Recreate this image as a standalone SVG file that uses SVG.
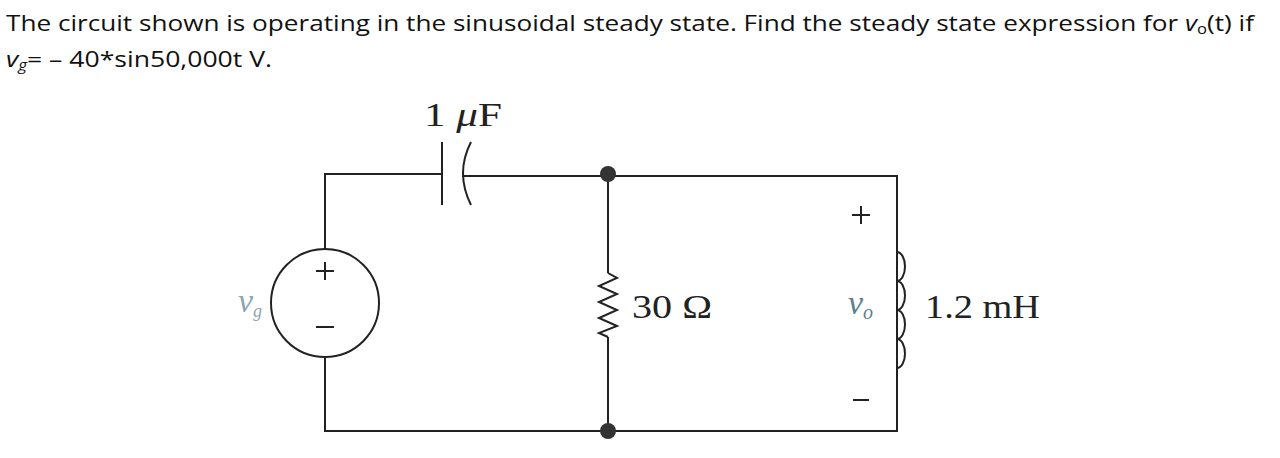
<svg xmlns="http://www.w3.org/2000/svg" width="1280" height="458" viewBox="0 0 1280 458">
<style>
.w{fill:none;stroke:#222;stroke-width:2}
.t{font-family:"Open Sans","Liberation Sans",Arial,sans-serif;font-size:22px;fill:#111}
.s{font-family:"Liberation Serif","Times New Roman",serif;font-size:34px;fill:#222}
.b{fill:#5a7f95}
</style>
<rect width="1280" height="458" fill="#fff"/>
<text class="t" x="6" y="31" textLength="1248" lengthAdjust="spacingAndGlyphs">The circuit shown is operating in the sinusoidal steady state. Find the steady state expression for <tspan font-style="italic">v</tspan><tspan font-size="14" dy="3">o</tspan><tspan dy="-3">(t) if</tspan></text>
<text class="t" x="6" y="67" textLength="266" lengthAdjust="spacingAndGlyphs"><tspan font-style="italic">v</tspan><tspan font-size="14" dy="3" font-style="italic">g</tspan><tspan dy="-3">= – 40*sin50,000t V.</tspan></text>
<g id="connectors">
<path class="w" d="M442 174H325V249M325 357V431H897V176H462M608 174V273M608 337V431"/>
</g>
<g id="source"><circle class="w" cx="325" cy="303" r="54"/>
<path class="w" d="M316 271h18M325 262v18M316 327h18" stroke-width="1.5"/>
<text class="s b" x="238" y="312" font-style="italic" font-size="28" opacity="0.7">v<tspan font-size="18" dy="5">g</tspan></text></g>
<g id="capacitor"><path class="w" d="M442 142V205M471 142Q455 173 471 205"/><text class="s" x="424" y="126" textLength="78" lengthAdjust="spacingAndGlyphs">1 <tspan font-style="italic">μ</tspan>F</text></g>
<g id="resistor"><path class="w" d="M608 273L617 278L599 286L617 294L599 302L617 310L599 318L617 326L599 333L608 337"/><text class="s" x="632" y="318" textLength="80" lengthAdjust="spacingAndGlyphs">30 Ω</text></g>
<g id="nodes"><circle cx="608" cy="174" r="8" fill="#333"/><circle cx="608" cy="431" r="8" fill="#333"/></g>
<g id="inductor"><path class="w" d="M897 252a8 14.5 0 0 1 0 29a8 14.5 0 0 1 0 29a8 14.5 0 0 1 0 29a8 14.5 0 0 1 0 29"/>
<text class="s" x="925" y="318" textLength="115" lengthAdjust="spacingAndGlyphs">1.2 mH</text>
<path class="w" stroke="#5a7f95" stroke-width="1.5" d="M852 215h18M861 206v18M853 400h16"/>
<text class="s b" x="848" y="314" font-style="italic" font-size="30">v<tspan font-size="20" dy="5">o</tspan></text></g>
</svg>
